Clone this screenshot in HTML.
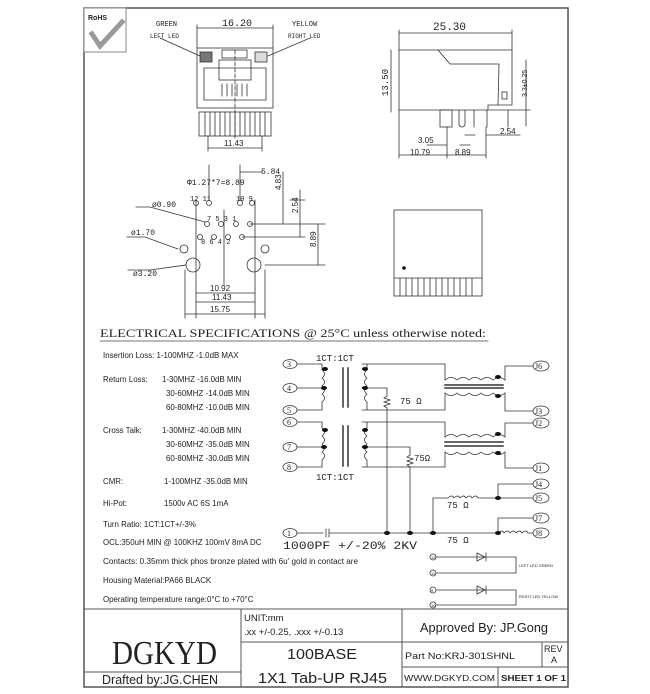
<!DOCTYPE html>
<html><head><meta charset="utf-8"><style>
html,body{margin:0;padding:0;background:#fff;width:650px;height:694px;overflow:hidden}
svg{display:block}
.s{font-family:"Liberation Sans",sans-serif;fill:#222}
.m{font-family:"Liberation Mono",monospace;fill:#222}
.r{font-family:"Liberation Serif",serif;fill:#222}
</style></head><body>
<svg width="650" height="694" viewBox="0 0 650 694" xmlns="http://www.w3.org/2000/svg" stroke-linecap="square">
<rect x="84" y="8" width="484" height="679" fill="none" stroke="#555" stroke-width="1.5"/>
<!-- RoHS -->
<rect x="84" y="8" width="42" height="44" fill="#fff" stroke="#888"/>
<text x="88" y="20" class="s" font-size="7" font-weight="bold" fill="#888">RoHS</text>
<path d="M92 34 L100 46 L122 22" fill="none" stroke="#999" stroke-width="5"/>
<!-- front view -->
<g fill="none" stroke="#333" stroke-width="0.8">
<line x1="197" y1="28" x2="273" y2="28"/><line x1="197" y1="25" x2="197" y2="48"/><line x1="273" y1="25" x2="273" y2="48"/>
<rect x="197" y="48" width="76" height="60"/>
<rect x="200" y="52" width="12" height="10" fill="#777"/><rect x="255" y="52" width="12" height="10" fill="#ddd"/>
<rect x="222" y="50" width="25" height="8"/><rect x="219" y="60" width="32" height="20"/>
<path d="M204 68 h62 v32 h-62z"/>
<path d="M222 96 v-12 M227 96 v-12 M232 96 v-12 M237 96 v-12 M242 96 v-12 M247 96 v-12"/>
<path d="M160 38 L200 56 M310 38 L268 56"/>
<rect x="199" y="112" width="72" height="24"/>
<path d="M205 112 v24 M210 112 v24 M215 112 v24 M220 112 v24 M225 112 v24 M230 112 v24 M235 112 v24 M240 112 v24 M245 112 v24 M250 112 v24 M255 112 v24 M260 112 v24 M265 112 v24"/>
<line x1="208" y1="148" x2="262" y2="148"/><line x1="208" y1="136" x2="208" y2="151"/><line x1="262" y1="136" x2="262" y2="151"/>
<line x1="235" y1="50" x2="235" y2="140" stroke-dasharray="4 2"/>
</g>
<text x="222" y="26" class="m" font-size="10">16.20</text>
<text x="156" y="26" class="m" font-size="7">GREEN</text><text x="150" y="38" class="m" font-size="6">LEFT LED</text>
<text x="292" y="26" class="m" font-size="7">YELLOW</text><text x="288" y="38" class="m" font-size="6">RIGHT LED</text>
<text x="224" y="146" class="s" font-size="8">11.43</text>
<!-- footprint -->
<g fill="none" stroke="#333" stroke-width="0.8">
<circle cx="193" cy="265" r="7"/><circle cx="254" cy="265" r="7"/>
<circle cx="184" cy="249" r="4"/><circle cx="265" cy="249" r="4"/>
<g>
<circle cx="196" cy="203" r="2.5"/><circle cx="209" cy="203" r="2.5"/><circle cx="240" cy="203" r="2.5"/><circle cx="252" cy="203" r="2.5"/>
<circle cx="207" cy="224" r="2.5"/><circle cx="221" cy="224" r="2.5"/><circle cx="236" cy="224" r="2.5"/><circle cx="250" cy="224" r="2.5"/>
<circle cx="200" cy="237" r="2.5"/><circle cx="214" cy="237" r="2.5"/><circle cx="228" cy="237" r="2.5"/><circle cx="242" cy="237" r="2.5"/>
</g>
<path d="M196 200 V318 M255 200 V318 M185 270 V318 M265 270 V318 M224 210 V285"/>
<path d="M196 293 H255 M196 302 H255 M185 314 H265"/>
<path d="M209 165 V200 M240 165 V200 M240 172 H262 M250 224 H325 M242 237 H305 M265 265 H325 M290 200 H305 M283 172 V224 M300 190 V237 M318 224 V265"/>
<path d="M136 207 L150 207 L205 222 M127 237 L145 237 L178 249 M128 270 L150 270 L186 265"/>
</g>
<text x="261" y="174" class="m" font-size="8">5.84</text>
<text x="187" y="185" class="m" font-size="8">Φ1.27*7=8.89</text>
<text x="190" y="201" class="m" font-size="7">12 11</text><text x="236" y="201" class="m" font-size="7">10 9</text>
<text x="152" y="207" class="m" font-size="8">ø0.90</text>
<text x="207" y="221" class="m" font-size="7">7  5  3  1</text>
<text x="201" y="244" class="m" font-size="7">8  6  4  2</text>
<text x="131" y="235" class="m" font-size="8">ø1.70</text>
<text x="133" y="276" class="m" font-size="8">ø3.20</text>
<text x="210" y="291" class="s" font-size="8">10.92</text><text x="212" y="300" class="s" font-size="8">11.43</text><text x="210" y="312" class="s" font-size="8">15.75</text>
<text transform="translate(281,190) rotate(-90)" class="s" font-size="8">4.83</text>
<text transform="translate(298,213) rotate(-90)" class="s" font-size="8">2.54</text>
<text transform="translate(316,247) rotate(-90)" class="s" font-size="8">8.89</text>
<!-- side view -->
<g fill="none" stroke="#333" stroke-width="0.8">
<path d="M399 33 H512 M399 30 V50 M512 30 V50"/>
<path d="M399 50 H512 V105 H488 V110 H399 Z"/>
<path d="M438 50 L450 64 H499 L498 105"/>
<rect x="502" y="92" width="5" height="7"/>
<path d="M391 50 V112 M489 110 H530 M526 60 V126"/>
<rect x="440" y="110" width="12" height="17"/>
<path d="M459 110 v15 q3 4 6 0 v-15 M474 110 v17 M487 110 v17 M508 110 v17"/>
<path d="M447 127 V158 M486 127 V158 M399 110 V158 M399 155 H486 M427 145 H447 M460 145 H470 M465 135 H475 M486 135 H520"/>
<rect x="394" y="210" width="88" height="86"/>
<path d="M394 278 H482 M400 278 v18 M406 278 v18 M412 278 v18 M418 278 v18 M424 278 v18 M430 278 v18 M436 278 v18 M442 278 v18 M448 278 v18 M454 278 v18 M460 278 v18 M466 278 v18 M472 278 v18"/>
</g>
<circle cx="404" cy="268" r="1.8" fill="#111"/>
<text x="433" y="30" class="m" font-size="11">25.30</text>
<text transform="translate(388,96) rotate(-90)" class="m" font-size="9">13.50</text>
<text transform="translate(527,97) rotate(-90)" class="s" font-size="7">3.3±0.25</text>
<text x="418" y="143" class="s" font-size="8">3.05</text><text x="500" y="134" class="s" font-size="8">2.54</text>
<text x="410" y="155" class="s" font-size="8">10.79</text><text x="455" y="155" class="s" font-size="8">8.89</text>
<!-- spec -->
<text x="100" y="337" class="r" font-size="12" textLength="386" lengthAdjust="spacingAndGlyphs" fill="#555">ELECTRICAL SPECIFICATIONS @ 25°C unless otherwise noted:</text>
<line x1="100" y1="341" x2="488" y2="341" stroke="#444" stroke-width="0.8"/>
<g class="s" font-size="7.9">
<text x="103" y="358">Insertion Loss:  1-100MHZ  -1.0dB MAX</text>
<text x="103" y="382">Return Loss:</text><text x="162" y="382">1-30MHZ    -16.0dB MIN</text>
<text x="166" y="396">30-60MHZ  -14.0dB MIN</text><text x="166" y="410">60-80MHZ  -10.0dB MIN</text>
<text x="103" y="433">Cross Talk:</text><text x="162" y="433">1-30MHZ    -40.0dB MIN</text>
<text x="166" y="447">30-60MHZ  -35.0dB MIN</text><text x="166" y="461">60-80MHZ  -30.0dB MIN</text>
<text x="103" y="484">CMR:</text><text x="164" y="484">1-100MHZ  -35.0dB MIN</text>
<text x="103" y="506">Hi-Pot:</text><text x="164" y="506">1500v AC 6S 1mA</text>
<text x="103" y="527">Turn Ratio: 1CT:1CT+/-3%</text>
<text x="103" y="545">OCL:350uH MIN @ 100KHZ 100mV 8mA DC</text>
<text x="103" y="564" textLength="255" lengthAdjust="spacingAndGlyphs">Contacts: 0.35mm thick phos bronze plated with 6u' gold in contact are</text>
<text x="103" y="583">Housing Material:PA66 BLACK</text>
<text x="103" y="602">Operating temperature range:0°C to +70°C</text>
</g>
<!-- schematic -->
<g fill="none" stroke="#333" stroke-width="0.8">
<g>
<ellipse cx="290" cy="364" rx="7" ry="4.5"/><ellipse cx="290" cy="388" rx="7" ry="4.5"/><ellipse cx="290" cy="410" rx="7" ry="4.5"/>
<ellipse cx="290" cy="422" rx="7" ry="4.5"/><ellipse cx="290" cy="447" rx="7" ry="4.5"/><ellipse cx="290" cy="467" rx="7" ry="4.5"/>
<ellipse cx="290" cy="533" rx="7" ry="4.5"/>
</g>
<g>
<ellipse cx="541" cy="366" rx="8" ry="5"/><ellipse cx="541" cy="411" rx="8" ry="5"/><ellipse cx="541" cy="423" rx="8" ry="5"/><ellipse cx="541" cy="468" rx="8" ry="5"/>
<ellipse cx="541" cy="484" rx="8" ry="5"/><ellipse cx="541" cy="498" rx="8" ry="5"/><ellipse cx="541" cy="518" rx="8" ry="5"/><ellipse cx="541" cy="533" rx="8" ry="5"/>
</g>
<path d="M297 364 H322 V370 M297 388 H324 M297 410 H322 V402 M322 370 q5 4 0 8 q5 4 0 8 q5 4 0 8 q5 4 0 8"/>
<path d="M297 422 H322 V428 M297 447 H324 M297 467 H322 V460 M322 428 q5 4 0 8 q5 4 0 8 q5 4 0 8 q5 4 0 8"/>
<path d="M343 368 V407 M348 368 V407 M343 426 V466 M348 426 V466" stroke-width="1.5"/>
<path d="M362 364 H445 V380 M362 388 H387 V396 M362 410 H445 V393 M367 370 q-5 4 0 8 q-5 4 0 8 q-5 4 0 8 q-5 4 0 8 M367 364 V370 M367 402 V410"/>
<path d="M362 422 H445 V437 M362 447 H410 V455 M362 467 H445 V452 M367 428 q-5 4 0 8 q-5 4 0 8 q-5 4 0 8 q-5 4 0 8 M367 422 V428 M367 460 V467"/>
<path d="M387 396 l-3 2 l6 2 l-6 2 l6 2 l-6 2 l3 2 V533 M410 455 l-3 2 l6 2 l-6 2 l6 2 l-6 2 l3 2 V533"/>
<path d="M445 380 q6 -5 12 0 q6 -5 12 0 q6 -5 12 0 q6 -5 12 0 q6 -5 12 0 M445 393 q6 5 12 0 q6 5 12 0 q6 5 12 0 q6 5 12 0 q6 5 12 0"/>
<path d="M445 385 H503 M445 388 H503" stroke-width="1.5"/>
<path d="M445 437 q6 -5 12 0 q6 -5 12 0 q6 -5 12 0 q6 -5 12 0 q6 -5 12 0 M445 452 q6 5 12 0 q6 5 12 0 q6 5 12 0 q6 5 12 0 q6 5 12 0"/>
<path d="M445 442 H503 M445 446 H503" stroke-width="1.5"/>
<path d="M505 380 V366 H533 M505 393 V411 H533 M505 437 V423 H533 M505 452 V468 H533"/>
<path d="M297 533 H323 M326 529 v8 M329 529 v8 M329 533 H498 q4 -4 6 0 q4 -4 6 0 q4 -4 6 0 q4 -4 6 0 q4 -4 6 0 H533"/>
<path d="M433 533 V498 H448 q4 -4 6 0 q4 -4 6 0 q4 -4 6 0 q4 -4 6 0 q4 -4 6 0 H533 M498 498 V484 H533 M498 533 V518 H533"/>
<path d="M437 557 H488 M437 573 H516 V557 H488 M437 590 H488 M437 605 H516 V590 H488"/>
<path d="M477 553 L485 557 L477 561 Z M486 553 V561 M477 586 L485 590 L477 594 Z M486 586 V594"/>
<circle cx="433" cy="557" r="3"/><circle cx="433" cy="573" r="3"/><circle cx="433" cy="590" r="3"/><circle cx="433" cy="605" r="3"/>
</g>
<g fill="#111">
<ellipse cx="325" cy="369" rx="3" ry="2"/><ellipse cx="324" cy="388" rx="3" ry="2"/><ellipse cx="365" cy="369" rx="3" ry="2"/><ellipse cx="365" cy="388" rx="3" ry="2"/>
<ellipse cx="325" cy="430" rx="3" ry="2"/><ellipse cx="324" cy="447" rx="3" ry="2"/><ellipse cx="365" cy="430" rx="3" ry="2"/><ellipse cx="365" cy="447" rx="3" ry="2"/>
<ellipse cx="498" cy="377" rx="3" ry="2"/><ellipse cx="498" cy="396" rx="3" ry="2"/><ellipse cx="498" cy="434" rx="3" ry="2"/><ellipse cx="498" cy="453" rx="3" ry="2"/>
<ellipse cx="387" cy="533" rx="3" ry="2"/><ellipse cx="410" cy="533" rx="3" ry="2"/><ellipse cx="433" cy="533" rx="3" ry="2"/><ellipse cx="498" cy="533" rx="3" ry="2"/><ellipse cx="498" cy="498" rx="3" ry="2"/>
</g>
<g class="r" font-size="8">
<text x="287" y="367">3</text><text x="287" y="391">4</text><text x="287" y="413">5</text><text x="287" y="425">6</text><text x="287" y="450">7</text><text x="287" y="470">8</text><text x="287" y="536">1</text>
<text x="535" y="369">J6</text><text x="535" y="414">J3</text><text x="535" y="426">J2</text><text x="535" y="471">J1</text>
<text x="535" y="487">J4</text><text x="535" y="501">J5</text><text x="535" y="521">J7</text><text x="535" y="536">J8</text>
</g>
<g class="m" font-size="9">
<text x="316" y="361">1CT:1CT</text><text x="316" y="480">1CT:1CT</text>
<text x="400" y="404">75 Ω</text><text x="414" y="461">75Ω</text>
<text x="447" y="508">75 Ω</text><text x="447" y="543">75 Ω</text>
<text x="283" y="549" font-size="11" textLength="134" lengthAdjust="spacingAndGlyphs">1000PF +/-20% 2KV</text>
</g>
<g class="s" font-size="4" >
<text x="431" y="559">12</text><text x="431" y="575">11</text><text x="431" y="592">9</text><text x="431" y="607">10</text>
<text x="519" y="567">LEFT  LED GREEN</text><text x="519" y="598">RIGHT  LED YELLOW</text>
</g>
<!-- title block -->
<g fill="none" stroke="#555" stroke-width="1">
<path d="M84 609 H568 M241 609 V687 M402 609 V687 M241 642 H402 M402 642 H568 M402 667 H568 M542 642 V667 M498 667 V687 M84 672 H241"/>
</g>
<text x="112" y="664" class="r" font-size="34" fill="#111" textLength="105" lengthAdjust="spacingAndGlyphs">DGKYD</text>
<text x="102" y="684" class="s" font-size="12.5" textLength="116" lengthAdjust="spacingAndGlyphs">Drafted by:JG.CHEN</text>
<text x="244" y="621" class="s" font-size="9.5">UNIT:mm</text>
<text x="244" y="635" class="s" font-size="9.5">.xx   +/-0.25,  .xxx  +/-0.13</text>
<text x="287" y="659" class="s" font-size="14.5" textLength="70" lengthAdjust="spacingAndGlyphs">100BASE</text>
<text x="258" y="683" class="s" font-size="14.5" textLength="129" lengthAdjust="spacingAndGlyphs">1X1 Tab-UP RJ45</text>
<text x="420" y="632" class="s" font-size="12.5" textLength="128" lengthAdjust="spacingAndGlyphs">Approved By: JP.Gong</text>
<text x="405" y="659" class="s" font-size="9.5" textLength="110" lengthAdjust="spacingAndGlyphs">Part No:KRJ-301SHNL</text>
<text x="544" y="652" class="s" font-size="9">REV</text><text x="551" y="663" class="s" font-size="9">A</text>
<text x="404" y="681" class="s" font-size="8" fill="#888" textLength="91" lengthAdjust="spacingAndGlyphs">WWW.DGKYD.COM</text>
<text x="501" y="681" class="s" font-size="8" font-weight="bold" textLength="65" lengthAdjust="spacingAndGlyphs">SHEET 1 OF 1</text>
</svg>
</body></html>
